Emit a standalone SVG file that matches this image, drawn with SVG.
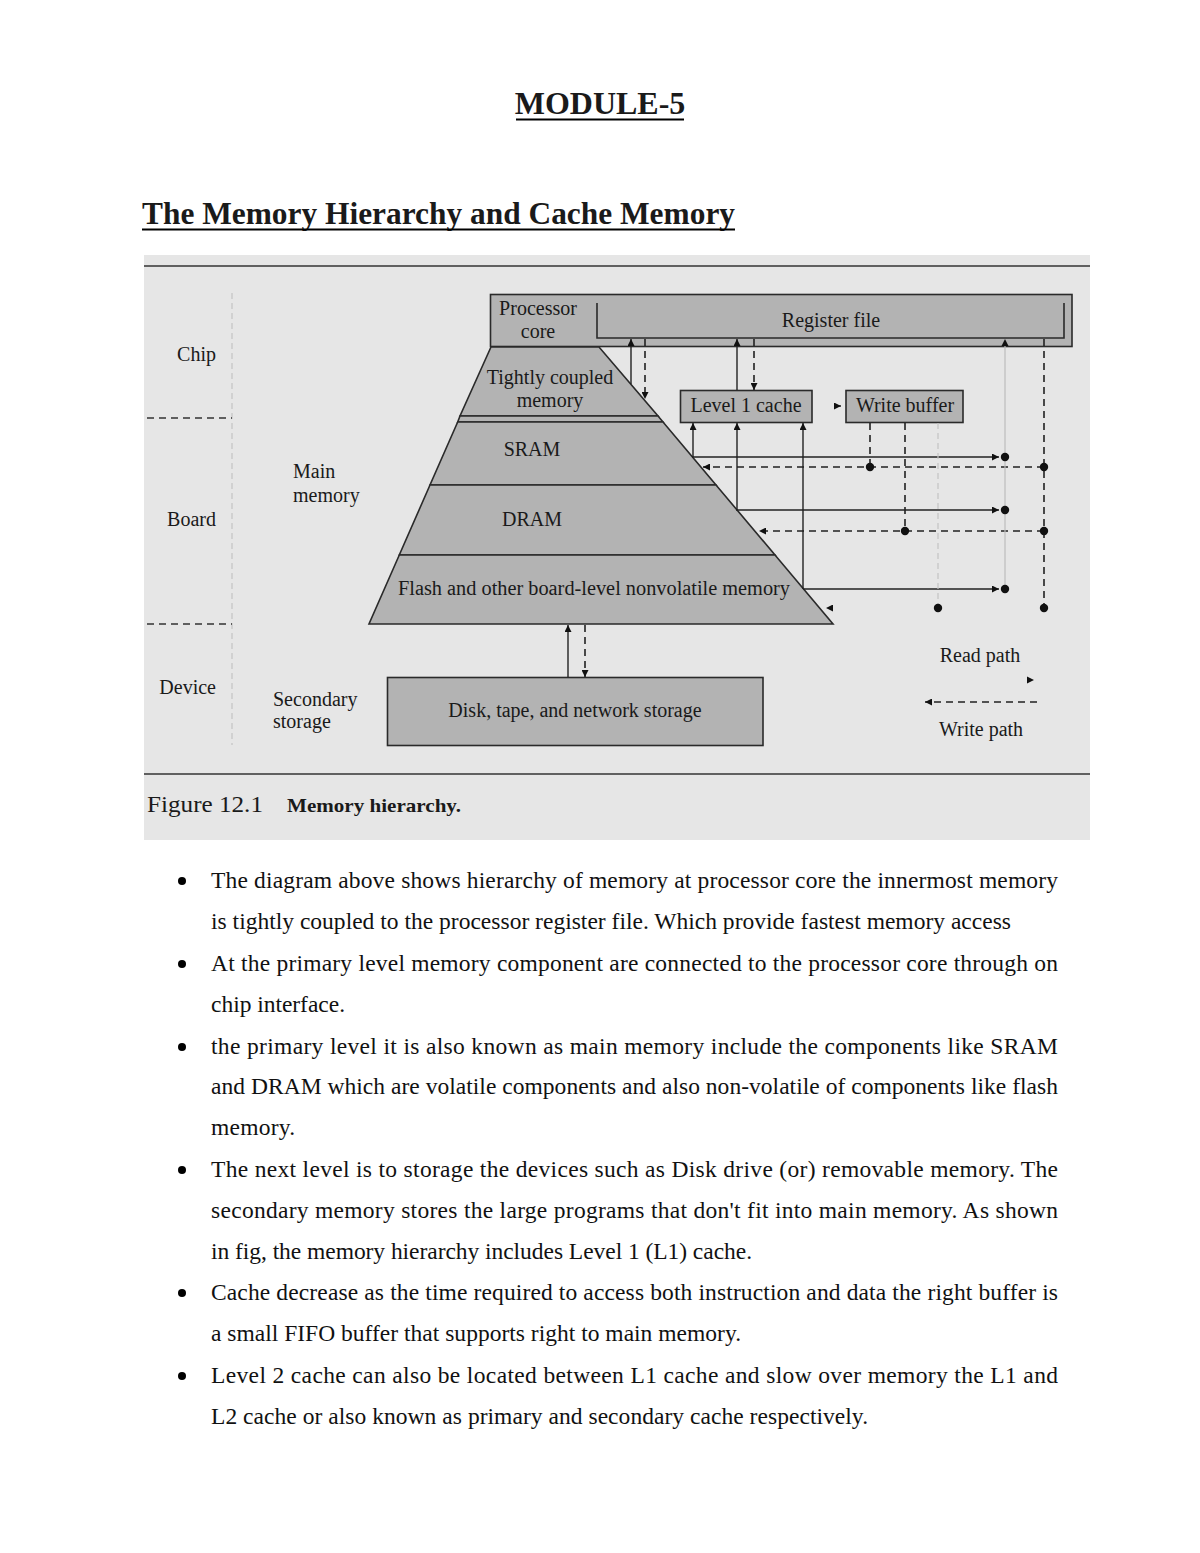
<svg xmlns="http://www.w3.org/2000/svg" width="1200" height="1553" viewBox="0 0 1200 1553">
<style>
.t{font-family:"Liberation Serif","Times New Roman",serif;fill:#1a1a1a}
.fl{font-size:20px}
.c{text-anchor:middle}
.r{text-anchor:end}
.body{font-family:"Liberation Serif","Times New Roman",serif;font-size:23.5px;fill:#111}
.box{fill:#b3b3b3;stroke:#2a2a2a;stroke-width:1.6}
.ln{fill:none;stroke:#222;stroke-width:1.4}
.dl{fill:none;stroke:#222;stroke-width:1.6;stroke-dasharray:7 5}
.gl{fill:none;stroke:#bdbdbd;stroke-width:1.2}
.gd{fill:none;stroke:#c4c4c4;stroke-width:1.2;stroke-dasharray:6 4}
.dot{fill:#111}
.ah{fill:#111}
</style>
<defs>
<marker id="arr" viewBox="0 0 10 10" refX="10" refY="5" markerWidth="7" markerHeight="7" markerUnits="userSpaceOnUse" orient="auto">
<path d="M0,0 L10,5 L0,10 z" fill="#111"/>
</marker>
</defs>
<rect x="0" y="0" width="1200" height="1553" fill="#ffffff"/>

<g id="title">
<text class="t" x="600" y="114" text-anchor="middle" font-size="32" font-weight="bold" fill="#000">MODULE-5</text>
<line x1="516" y1="119.5" x2="684" y2="119.5" stroke="#000" stroke-width="2"/>
<text class="t" x="142" y="224" font-size="32" font-weight="bold" textLength="593" lengthAdjust="spacingAndGlyphs" fill="#000">The Memory Hierarchy and Cache Memory</text>
<line x1="142" y1="229.5" x2="735" y2="229.5" stroke="#000" stroke-width="2"/>
</g>

<g id="figure-bg">
<rect x="144" y="255" width="946" height="585" fill="#e6e6e6"/>
<line x1="144" y1="266" x2="1090" y2="266" stroke="#333" stroke-width="1.6"/>
<line x1="144" y1="774" x2="1090" y2="774" stroke="#333" stroke-width="1.6"/>
</g>

<g id="levels">
<line x1="232" y1="293" x2="232" y2="745" class="gd"/>
<line x1="147" y1="418" x2="232" y2="418" stroke="#333" stroke-width="1.4" stroke-dasharray="7 5"/>
<line x1="147" y1="624" x2="232" y2="624" stroke="#333" stroke-width="1.4" stroke-dasharray="7 5"/>
<text class="t fl r" x="216" y="361">Chip</text>
<text class="t fl r" x="216" y="526">Board</text>
<text class="t fl r" x="216" y="694">Device</text>
<text class="t fl" x="293" y="478">Main</text>
<text class="t fl" x="293" y="502">memory</text>
<text class="t fl" x="273" y="706">Secondary</text>
<text class="t fl" x="273" y="728">storage</text>
</g>

<g id="processor-core">
<rect class="box" x="490.5" y="294.5" width="581.5" height="52"/>
<path d="M597,303 V338 H1064 V303" fill="#b3b3b3" stroke="#2a2a2a" stroke-width="1.6"/>
<text class="t fl c" x="538" y="315">Processor</text>
<text class="t fl c" x="538" y="338">core</text>
<text class="t fl c" x="831" y="327">Register file</text>
</g>

<g id="tightly-coupled-memory">
<polygon class="box" points="491,347 599,347 658,416 460,416"/>
<polygon class="box" points="460,416 658,416 663,422 457.7,422"/>
<text class="t fl c" x="550" y="384">Tightly coupled</text>
<text class="t fl c" x="550" y="407">memory</text>
</g>

<g id="sram">
<polygon class="box" points="457.7,422 663,422 716,485 430,485"/>
<text class="t fl c" x="532" y="456">SRAM</text>
</g>

<g id="dram">
<polygon class="box" points="430,485 716,485 775,555 399.3,555"/>
<text class="t fl c" x="532" y="526">DRAM</text>
</g>

<g id="flash">
<polygon class="box" points="399.3,555 775,555 833,624 369,624"/>
<text class="t fl" x="398" y="595" textLength="392" lengthAdjust="spacingAndGlyphs">Flash and other board-level nonvolatile memory</text>
</g>

<g id="level1-cache">
<rect class="box" x="680.5" y="390.5" width="131.5" height="32"/>
<text class="t fl c" x="746" y="412">Level 1 cache</text>
</g>

<g id="write-buffer">
<rect class="box" x="846" y="390.5" width="117" height="32"/>
<text class="t fl c" x="905" y="412">Write buffer</text>
</g>

<g id="disk-storage">
<rect class="box" x="387.5" y="677.5" width="375.5" height="68"/>
<text class="t fl c" x="575" y="717">Disk, tape, and network storage</text>
</g>

<g id="connectors">
<line class="ln" x1="631" y1="384" x2="631" y2="339" marker-end="url(#arr)"/>
<line class="dl" x1="645" y1="339" x2="645" y2="399" marker-end="url(#arr)"/>
<line class="ln" x1="737" y1="390" x2="737" y2="339" marker-end="url(#arr)"/>
<line class="dl" x1="754" y1="339" x2="754" y2="390" marker-end="url(#arr)"/>
<line class="ln" x1="834" y1="406" x2="841" y2="406" marker-end="url(#arr)"/>
<line class="ln" x1="693" y1="457" x2="693" y2="423" marker-end="url(#arr)"/>
<line class="ln" x1="692" y1="457" x2="999" y2="457" marker-end="url(#arr)"/>
<line class="dl" x1="1044" y1="467" x2="703" y2="467" marker-end="url(#arr)"/>
<line class="dl" x1="870" y1="423" x2="870" y2="467"/>
<line class="ln" x1="737" y1="510" x2="737" y2="423" marker-end="url(#arr)"/>
<line class="ln" x1="736" y1="510" x2="999" y2="510" marker-end="url(#arr)"/>
<line class="dl" x1="1044" y1="531" x2="759" y2="531" marker-end="url(#arr)"/>
<line class="dl" x1="905" y1="423" x2="905" y2="531"/>
<line class="ln" x1="803" y1="589" x2="803" y2="423" marker-end="url(#arr)"/>
<line class="ln" x1="803" y1="589" x2="999" y2="589" marker-end="url(#arr)"/>
<line stroke="none" x1="834" y1="608" x2="826" y2="608" marker-end="url(#arr)"/>
<line class="gd" x1="938" y1="423" x2="938" y2="608"/>
<line class="gl" x1="1005" y1="589" x2="1005" y2="340"/>
<path class="ah" d="M1005,339 L1008.5,346 L1001.5,346 z"/>
<line class="dl" x1="1044" y1="339" x2="1044" y2="608"/>
<circle class="dot" cx="1005" cy="457" r="4.2"/>
<circle class="dot" cx="1005" cy="510" r="4.2"/>
<circle class="dot" cx="1005" cy="589" r="4.2"/>
<circle class="dot" cx="870" cy="467" r="4.2"/>
<circle class="dot" cx="1044" cy="467" r="4.2"/>
<circle class="dot" cx="905" cy="531" r="4.2"/>
<circle class="dot" cx="1044" cy="531" r="4.2"/>
<circle class="dot" cx="938" cy="608" r="4.2"/>
<circle class="dot" cx="1044" cy="608" r="4.2"/>
<line class="ln" x1="568" y1="677" x2="568" y2="625" marker-end="url(#arr)"/>
<line class="dl" x1="585" y1="625" x2="585" y2="677" marker-end="url(#arr)"/>
</g>

<g id="legend">
<text class="t fl c" x="980" y="662">Read path</text>
<path class="ah" d="M1034,680 L1027,676.5 L1027,683.5 z"/>
<line class="dl" x1="1037" y1="702" x2="925" y2="702" marker-end="url(#arr)"/>
<text class="t fl c" x="981" y="736">Write path</text>
</g>

<g id="caption">
<text class="t" x="147" y="812" font-size="24" fill="#333" textLength="116" lengthAdjust="spacingAndGlyphs">Figure 12.1</text>
<text class="t" x="287" y="812" font-size="19" font-weight="bold" fill="#222" textLength="174" lengthAdjust="spacingAndGlyphs">Memory hierarchy.</text>
</g>

<g id="bullets">
<circle cx="182" cy="881" r="4" fill="#000"/>
<circle cx="182" cy="964" r="4" fill="#000"/>
<circle cx="182" cy="1047" r="4" fill="#000"/>
<circle cx="182" cy="1170" r="4" fill="#000"/>
<circle cx="182" cy="1293" r="4" fill="#000"/>
<circle cx="182" cy="1376" r="4" fill="#000"/>
<text class="body" x="211" y="888" textLength="847" lengthAdjust="spacing">The diagram above shows hierarchy of memory at processor core the innermost memory</text>
<text class="body" x="211" y="929" textLength="800" lengthAdjust="spacing">is tightly coupled to the processor register file. Which provide fastest memory access</text>
<text class="body" x="211" y="971" textLength="847" lengthAdjust="spacing">At the primary level memory component are connected to the processor core through on</text>
<text class="body" x="211" y="1012" textLength="134" lengthAdjust="spacing">chip interface.</text>
<text class="body" x="211" y="1054" textLength="847" lengthAdjust="spacing">the primary level it is also known as main memory include the components like SRAM</text>
<text class="body" x="211" y="1094" textLength="847" lengthAdjust="spacing">and DRAM which are volatile components and also non-volatile of components like flash</text>
<text class="body" x="211" y="1135" textLength="84" lengthAdjust="spacing">memory.</text>
<text class="body" x="211" y="1177" textLength="847" lengthAdjust="spacing">The next level is to storage the devices such as Disk drive (or) removable memory. The</text>
<text class="body" x="211" y="1218" textLength="847" lengthAdjust="spacing">secondary memory stores the large programs that don't fit into main memory. As shown</text>
<text class="body" x="211" y="1259" textLength="541" lengthAdjust="spacing">in fig, the memory hierarchy includes Level 1 (L1) cache.</text>
<text class="body" x="211" y="1300" textLength="847" lengthAdjust="spacing">Cache decrease as the time required to access both instruction and data the right buffer is</text>
<text class="body" x="211" y="1341" textLength="530" lengthAdjust="spacing">a small FIFO buffer that supports right to main memory.</text>
<text class="body" x="211" y="1383" textLength="847" lengthAdjust="spacing">Level 2 cache can also be located between L1 cache and slow over memory the L1 and</text>
<text class="body" x="211" y="1424" textLength="657" lengthAdjust="spacing">L2 cache or also known as primary and secondary cache respectively.</text>
</g>
</svg>
